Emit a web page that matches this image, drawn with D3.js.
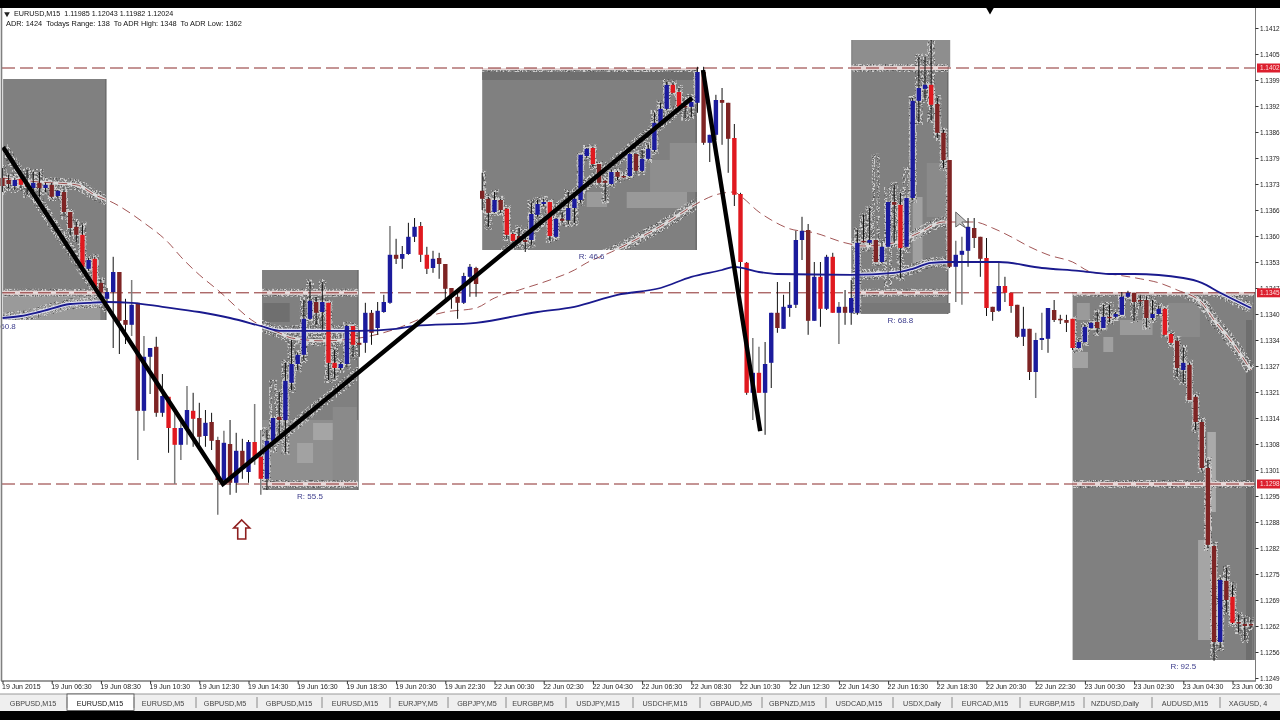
<!DOCTYPE html>
<html><head><meta charset="utf-8">
<script src="https://cdnjs.cloudflare.com/ajax/libs/d3/7.8.5/d3.min.js"></script>
<style>
html,body{margin:0;padding:0;background:#fff;overflow:hidden}
svg{display:block;filter:blur(0.35px)}
text{font-family:"Liberation Sans",Arial,sans-serif}
</style></head><body><svg id="c" width="1280" height="720"></svg>
<script>
const opens=[
1.13745,1.13740,1.13725,1.13743,1.13733,1.13720,1.13733,1.13720,1.13728,1.13700,
1.13710,1.13660,1.13623,1.13603,1.13518,1.13543,1.13483,1.13443,1.13460,1.13510,
1.13390,1.13378,1.13433,1.13163,1.13298,1.13323,1.13158,1.13198,1.13120,1.13078,
1.13120,1.13163,1.13145,1.13100,1.13135,1.13090,1.12990,1.13080,1.12983,1.13063,
1.13010,1.13085,1.13048,1.12993,1.13088,1.13148,1.13140,1.13233,1.13280,1.13303,
1.13393,1.13435,1.13410,1.13433,1.13283,1.13270,1.13280,1.13375,1.13333,1.13333,
1.13408,1.13370,1.13410,1.13433,1.13553,1.13543,1.13555,1.13598,1.13625,1.13553,
1.13520,1.13545,1.13530,1.13470,1.13448,1.13433,1.13498,1.13520,1.13713,1.13693,
1.13660,1.13690,1.13668,1.13605,1.13600,1.13590,1.13590,1.13653,1.13680,1.13685,
1.13598,1.13643,1.13640,1.13670,1.13690,1.13800,1.13820,1.13780,1.13738,1.13730,
1.13760,1.13750,1.13750,1.13805,1.13763,1.13793,1.13815,1.13883,1.13918,1.13978,
1.13960,1.13925,1.13923,1.13933,1.14010,1.13833,1.13853,1.13940,1.13933,1.13845,
1.13705,1.13533,1.13208,1.13258,1.13208,1.13283,1.13408,1.13368,1.13420,1.13428,
1.13590,1.13615,1.13388,1.13498,1.13418,1.13548,1.13408,1.13423,1.13408,1.13408,
1.13588,1.13583,1.13590,1.13535,1.13573,1.13685,1.13678,1.13573,1.13695,1.13938,
1.13968,1.13978,1.13930,1.13858,1.13790,1.13523,1.13553,1.13563,1.13620,1.13598,
1.13545,1.13423,1.13413,1.13475,1.13458,1.13428,1.13348,1.13368,1.13260,1.13340,
1.13343,1.13415,1.13393,1.13390,1.13393,1.13320,1.13335,1.13370,1.13385,1.13370,
1.13398,1.13398,1.13403,1.13448,1.13458,1.13440,1.13440,1.13395,1.13405,1.13418,
1.13355,1.13338,1.13265,1.13278,1.13198,1.13135,1.13020,1.12825,1.12585,1.12738,
1.12698,1.12635,1.12630,1.12630];
const highs=[
1.13770,1.13753,1.13745,1.13748,1.13765,1.13760,1.13760,1.13733,1.13733,1.13715,
1.13715,1.13660,1.13635,1.13628,1.13545,1.13548,1.13490,1.13470,1.13548,1.13510,
1.13443,1.13490,1.13433,1.13350,1.13320,1.13348,1.13255,1.13198,1.13158,1.13135,
1.13225,1.13208,1.13183,1.13165,1.13158,1.13098,1.13113,1.13140,1.13108,1.13093,
1.13090,1.13180,1.13115,1.13115,1.13233,1.13210,1.13283,1.13340,1.13308,1.13440,
1.13485,1.13448,1.13485,1.13433,1.13315,1.13285,1.13378,1.13375,1.13365,1.13433,
1.13415,1.13435,1.13453,1.13625,1.13593,1.13575,1.13633,1.13645,1.13635,1.13573,
1.13563,1.13558,1.13530,1.13470,1.13465,1.13508,1.13530,1.13523,1.13758,1.13698,
1.13710,1.13693,1.13670,1.13608,1.13620,1.13598,1.13683,1.13690,1.13693,1.13685,
1.13645,1.13660,1.13710,1.13708,1.13803,1.13820,1.13823,1.13780,1.13740,1.13765,
1.13763,1.13753,1.13808,1.13808,1.13815,1.13828,1.13908,1.13933,1.13985,1.13983,
1.13970,1.13940,1.13948,1.14023,1.14023,1.13853,1.13953,1.13970,1.13933,1.13880,
1.13708,1.13535,1.13345,1.13323,1.13335,1.13408,1.13485,1.13453,1.13485,1.13613,
1.13648,1.13630,1.13535,1.13535,1.13553,1.13558,1.13435,1.13465,1.13490,1.13615,
1.13653,1.13670,1.13798,1.13583,1.13715,1.13728,1.13708,1.13765,1.13945,1.14048,
1.14048,1.14090,1.13945,1.13865,1.13790,1.13588,1.13598,1.13645,1.13645,1.13598,
1.13595,1.13423,1.13533,1.13498,1.13458,1.13428,1.13423,1.13368,1.13358,1.13408,
1.13420,1.13440,1.13403,1.13403,1.13393,1.13340,1.13378,1.13385,1.13410,1.13428,
1.13428,1.13410,1.13460,1.13463,1.13458,1.13453,1.13448,1.13440,1.13425,1.13420,
1.13358,1.13343,1.13320,1.13283,1.13203,1.13140,1.13040,1.12828,1.12745,1.12770,
1.12728,1.12653,1.12645,1.12640];
const lows=[
1.13710,1.13720,1.13715,1.13720,1.13703,1.13700,1.13698,1.13710,1.13695,1.13695,
1.13648,1.13603,1.13585,1.13515,1.13513,1.13465,1.13450,1.13435,1.13320,1.13305,
1.13330,1.13350,1.13040,1.13113,1.13205,1.13148,1.13148,1.13058,1.12980,1.13040,
1.13078,1.13073,1.13078,1.13073,1.13065,1.12903,1.12978,1.12953,1.12958,1.12993,
1.12983,1.13028,1.12953,1.12965,1.13065,1.13098,1.13060,1.13215,1.13265,1.13290,
1.13390,1.13378,1.13363,1.13240,1.13245,1.13265,1.13273,1.13298,1.13298,1.13308,
1.13328,1.13353,1.13408,1.13430,1.13530,1.13518,1.13553,1.13585,1.13535,1.13505,
1.13508,1.13493,1.13440,1.13418,1.13393,1.13430,1.13448,1.13448,1.13665,1.13623,
1.13658,1.13658,1.13595,1.13583,1.13585,1.13560,1.13578,1.13648,1.13675,1.13590,
1.13595,1.13633,1.13630,1.13633,1.13683,1.13795,1.13773,1.13728,1.13688,1.13728,
1.13740,1.13745,1.13748,1.13758,1.13760,1.13790,1.13810,1.13878,1.13915,1.13958,
1.13920,1.13895,1.13898,1.13908,1.13828,1.13785,1.13840,1.13828,1.13758,1.13675,
1.13458,1.13203,1.13140,1.13208,1.13103,1.13220,1.13358,1.13368,1.13398,1.13420,
1.13540,1.13353,1.13388,1.13373,1.13415,1.13408,1.13330,1.13378,1.13378,1.13403,
1.13583,1.13578,1.13533,1.13533,1.13478,1.13583,1.13495,1.13565,1.13690,1.13885,
1.13940,1.13890,1.13845,1.13770,1.13520,1.13435,1.13428,1.13523,1.13570,1.13498,
1.13400,1.13388,1.13410,1.13435,1.13408,1.13345,1.13325,1.13240,1.13195,1.13315,
1.13308,1.13385,1.13380,1.13360,1.13315,1.13318,1.13333,1.13368,1.13358,1.13370,
1.13385,1.13395,1.13403,1.13445,1.13390,1.13425,1.13373,1.13390,1.13403,1.13353,
1.13328,1.13248,1.13235,1.13190,1.13115,1.13015,1.12820,1.12538,1.12570,1.12660,
1.12630,1.12610,1.12590,1.12620];
const closes=[
1.13725,1.13730,1.13740,1.13728,1.13723,1.13733,1.13720,1.13728,1.13698,1.13713,
1.13660,1.13620,1.13603,1.13523,1.13540,1.13473,1.13460,1.13460,1.13510,1.13388,
1.13378,1.13428,1.13163,1.13298,1.13320,1.13158,1.13200,1.13120,1.13078,1.13120,
1.13165,1.13143,1.13098,1.13133,1.13088,1.12990,1.13083,1.12983,1.13063,1.13023,
1.13085,1.13048,1.12993,1.13088,1.13145,1.13140,1.13238,1.13280,1.13303,1.13393,
1.13438,1.13408,1.13435,1.13283,1.13270,1.13280,1.13375,1.13328,1.13328,1.13408,
1.13358,1.13413,1.13435,1.13553,1.13543,1.13555,1.13598,1.13623,1.13553,1.13518,
1.13543,1.13530,1.13468,1.13448,1.13433,1.13500,1.13523,1.13480,1.13693,1.13658,
1.13690,1.13665,1.13603,1.13588,1.13590,1.13585,1.13655,1.13680,1.13685,1.13600,
1.13643,1.13638,1.13670,1.13693,1.13803,1.13818,1.13780,1.13733,1.13733,1.13760,
1.13748,1.13748,1.13805,1.13763,1.13793,1.13818,1.13883,1.13918,1.13978,1.13958,
1.13923,1.13923,1.13935,1.14010,1.13833,1.13853,1.13940,1.13933,1.13843,1.13703,
1.13535,1.13208,1.13258,1.13208,1.13280,1.13408,1.13370,1.13423,1.13428,1.13590,
1.13613,1.13388,1.13498,1.13418,1.13548,1.13408,1.13423,1.13408,1.13445,1.13583,
1.13585,1.13590,1.13535,1.13573,1.13685,1.13678,1.13570,1.13695,1.13938,1.13970,
1.13978,1.13928,1.13858,1.13790,1.13523,1.13553,1.13563,1.13623,1.13595,1.13543,
1.13420,1.13410,1.13475,1.13458,1.13425,1.13348,1.13368,1.13260,1.13340,1.13345,
1.13420,1.13390,1.13390,1.13383,1.13320,1.13335,1.13373,1.13383,1.13370,1.13398,
1.13395,1.13405,1.13448,1.13458,1.13435,1.13438,1.13395,1.13405,1.13418,1.13353,
1.13333,1.13270,1.13283,1.13190,1.13135,1.13020,1.12828,1.12585,1.12740,1.12690,
1.12633,1.12633,1.12625,1.12628];
const brightCandles=[3,13,15,27,28,31,41,42,53,54,57,68,69,82,83,89,96,109,110,119,120,121,123,133,135,146,151,160,163,164,174,189,190,200];
const grayWicks=[21,22,23,28,29,30,35,36,41,42,44,63,122,123,136,142,144,147,155,156,162,168,169];

const maIdx=[0,3,6,11,14,17,21,26,32,37,42,45,48,58,64,67,77,87,93,100,107,112,117,119,123,126,138,145,148,151,154,160,162,169,175,180,184,192,195,198,203];
const maPrice=[1.13395,1.13400,1.13410,1.13430,1.13433,1.13435,1.13433,1.13423,1.13410,1.13395,1.13375,1.13363,1.13363,1.13363,1.13368,1.13375,1.13383,1.13410,1.13423,1.13453,1.13470,1.13498,1.13515,1.13523,1.13510,1.13505,1.13503,1.13508,1.13518,1.13533,1.13535,1.13535,1.13535,1.13520,1.13513,1.13505,1.13505,1.13495,1.13483,1.13458,1.13420];
const slowIdx=[0,6,12,15,18,23,27,29,32,35,41,45,47,52,58,64,68,72,77,80,84,89,93,95,99,102,108,112,116,119,120,123,125,128,132,137,140,145,149,153,158,161,164,167,170,174,177,181,185,188,191,195,197,200,203];
const slowPrice=[1.13745,1.13735,1.13728,1.13703,1.13683,1.13633,1.13583,1.13548,1.13503,1.13465,1.13385,1.13358,1.13345,1.13338,1.13345,1.13368,1.13393,1.13410,1.13420,1.13445,1.13465,1.13490,1.13515,1.13533,1.13560,1.13583,1.13633,1.13673,1.13703,1.13710,1.13700,1.13660,1.13640,1.13618,1.13608,1.13583,1.13575,1.13583,1.13608,1.13635,1.13635,1.13620,1.13598,1.13573,1.13553,1.13535,1.13510,1.13503,1.13493,1.13483,1.13465,1.13433,1.13390,1.13333,1.13265];

const trendAIdx=[0.08,35.85,112.1], trendAPrice=[1.13822,1.12980,1.13945];
const trendBIdx=[113.9,123.2], trendBPrice=[1.14015,1.13112];

const levelPrices=[1.1402,1.13458,1.1298];
const levelLabels=["1.1402","1.1345","1.1298"];

const boxStart=[0.1,42.2,78,138,174];
const boxEnd=[16.8,57.8,112.8,153.7,203.5];
const boxTop=[1.139925,1.13515,1.1402,1.1409,1.1346];
const boxBottom=[1.1339,1.12965,1.13565,1.13405,1.1254];
const boxLabels=["60.8","R: 55.5","R: 46.6","R: 68.8","R: 92.5"];
const boxLabelIdx=[0.9,50,95.8,146,192];

const patchStart=[0.1,42.4,42.2,47.9,50.5,53.7,101.5,105.3,108.5,95,78,138.2,148,150.3,138.2,174.7,174,179,181.7,189.5,195.9,194.4,202.2];
const patchEnd=[15.9,46.7,57.8,50.5,54.9,57.6,111.3,112.9,112.9,98.3,112.9,154.1,149.6,154.1,154.1,176.8,176.5,180.6,187,194.7,197.3,196.7,203.2];
const patchTop=[1.1345,1.134325,1.1314,1.130825,1.131325,1.131725,1.1371,1.1379,1.138325,1.1371,1.1401,1.1409,1.136975,1.137825,1.134325,1.134325,1.1331,1.133475,1.1339,1.134325,1.1311,1.1284,1.1339];
const patchBottom=[1.1339,1.13385,1.1298,1.130325,1.1309,1.129825,1.1367,1.1371,1.1379,1.136725,1.1399,1.140225,1.135325,1.136475,1.134075,1.1339,1.1327,1.1331,1.133525,1.133475,1.1291,1.1259,1.1254];
const patchGray=[154,111,143,162,165,138,153,142,142,154,111,142,160,138,120,154,162,160,154,138,170,165,110];

const priceTicks=[1.1412,1.14055,1.1399,1.13925,1.1386,1.13795,1.1373,1.13665,1.136,1.13535,1.1347,1.13405,1.1334,1.13275,1.1321,1.13145,1.1308,1.13015,1.1295,1.12885,1.1282,1.12755,1.1269,1.12625,1.1256,1.12495];
const priceLabels=["1.1412","1.1405","1.1399","1.1392","1.1386","1.1379","1.1373","1.1366","1.1360","1.1353","1.1347","1.1340","1.1334","1.1327","1.1321","1.1314","1.1308","1.1301","1.1295","1.1288","1.1282","1.1275","1.1269","1.1262","1.1256","1.1249"];
const timeTicks=[0,8,16,24,32,40,48,56,64,72,80,88,96,104,112,120,128,136,144,152,160,168,176,184,192,200];
const timeLabels=["19 Jun 2015","19 Jun 06:30","19 Jun 08:30","19 Jun 10:30","19 Jun 12:30","19 Jun 14:30","19 Jun 16:30","19 Jun 18:30","19 Jun 20:30","19 Jun 22:30","22 Jun 00:30","22 Jun 02:30","22 Jun 04:30","22 Jun 06:30","22 Jun 08:30","22 Jun 10:30","22 Jun 12:30","22 Jun 14:30","22 Jun 16:30","22 Jun 18:30","22 Jun 20:30","22 Jun 22:30","23 Jun 00:30","23 Jun 02:30","23 Jun 04:30","23 Jun 06:30"];
const tabLabels=["GBPUSD,M15","EURUSD,M15","EURUSD,M5","GBPUSD,M5","GBPUSD,M15","EURUSD,M15","EURJPY,M5","GBPJPY,M5","EURGBP,M5","USDJPY,M15","USDCHF,M15","GBPAUD,M5","GBPNZD,M15","USDCAD,M15","USDX,Daily","EURCAD,M15","EURGBP,M15","NZDUSD,Daily","AUDUSD,M15","XAGUSD, 4"];
const tabCentre=[33,100,163,225,289,355,418,477,533,598,665,731,792,859,922,985,1052,1115,1185,1248];
const tabEdges=[67,134,196,257,322,390,448,506,566,633,700,762,826,893,952,1020,1084,1152,1220];
const headerLine="EURUSD,M15  1.11985 1.12043 1.11982 1.12024";
const adrLine="ADR: 1424  Todays Range: 138  To ADR High: 1348  To ADR Low: 1362";

const svg=d3.select("#c");
const x=d3.scaleLinear().domain([0,200]).range([2.5,1232.5]);
const y=d3.scaleLinear().domain([1.1412,1.12495]).range([28,678]);
const ids=opens.map((_,i)=>i);
const brightSet=new Set(brightCandles), graySet=new Set(grayWicks);
const RED="#e0191f", MAROON="#7e2424", BLUE="#1b1b9c", LINE="#8a2b2b", NAVY="#1a1a8e";

svg.append("rect").attr("width",1280).attr("height",720).attr("fill","#fff");
const defs=svg.append("defs");
function speckle(id,seed,freq,gain,off){
  const f=defs.append("filter").attr("id",id).attr("filterUnits","userSpaceOnUse")
    .attr("x",0).attr("y",0).attr("width",1280).attr("height",720);
  f.append("feTurbulence").attr("type","fractalNoise").attr("baseFrequency",freq).attr("numOctaves",2).attr("seed",seed).attr("result","n");
  f.append("feColorMatrix").attr("in","n").attr("type","matrix")
    .attr("values",`0 0 0 0 0 0 0 0 0 0 0 0 0 0 0 ${gain} 0 0 0 ${off}`).attr("result","m");
  f.append("feComposite").attr("in","SourceGraphic").attr("in2","m").attr("operator","in");
}
speckle("spkL",3,0.55,8,-3.9);
speckle("spkD",11,0.6,8,-4.7);
const clip=defs.append("clipPath").attr("id","boxClip");
boxStart.forEach((_,k)=>clip.append("rect").attr("x",x(boxStart[k])).attr("y",y(boxTop[k]))
  .attr("width",x(boxEnd[k])-x(boxStart[k])).attr("height",y(boxBottom[k])-y(boxTop[k])));
defs.append("clipPath").attr("id","plot").append("rect").attr("x",0).attr("y",8).attr("width",1255).attr("height",673);

const plot=svg.append("g").attr("clip-path","url(#plot)");
plot.append("g").selectAll("rect").data(boxStart).join("rect")
  .attr("x",(d,k)=>x(boxStart[k])).attr("y",(d,k)=>y(boxTop[k]))
  .attr("width",(d,k)=>x(boxEnd[k])-x(boxStart[k])).attr("height",(d,k)=>y(boxBottom[k])-y(boxTop[k]))
  .attr("fill","#808080");
plot.append("g").selectAll("line").data(boxEnd).join("line")
  .attr("x1",d=>x(d)).attr("x2",d=>x(d)).attr("y1",(d,k)=>y(boxTop[k])).attr("y2",(d,k)=>y(boxBottom[k]))
  .attr("stroke","#6b6b6b").attr("stroke-width",1.5);
plot.append("g").selectAll("rect").data(patchStart).join("rect")
  .attr("x",(d,k)=>x(patchStart[k])).attr("y",(d,k)=>y(patchTop[k]))
  .attr("width",(d,k)=>x(patchEnd[k])-x(patchStart[k])).attr("height",(d,k)=>y(patchBottom[k])-y(patchTop[k]))
  .attr("fill",(d,k)=>d3.rgb(patchGray[k],patchGray[k],patchGray[k]));

const lineMA=d3.line().curve(d3.curveMonotoneX);
const maPath=lineMA(maIdx.map((d,i)=>[x(d),y(maPrice[i])]));
const slowPath=lineMA(slowIdx.map((d,i)=>[x(d),y(slowPrice[i])]));
const straight=d3.line();
const trendA=straight(trendAIdx.map((d,i)=>[x(d),y(trendAPrice[i])]));
const trendB=straight(trendBIdx.map((d,i)=>[x(d),y(trendBPrice[i])]));

function halos(g,col){
  g.append("g").selectAll("line").data(ids).join("line")
    .attr("x1",i=>x(i)).attr("x2",i=>x(i)).attr("y1",i=>y(highs[i])-3).attr("y2",i=>y(lows[i])+3)
    .attr("stroke",col).attr("stroke-width",8);
  g.append("g").selectAll("line").data(levelPrices).join("line")
    .attr("x1",0).attr("x2",1255).attr("y1",d=>y(d)).attr("y2",d=>y(d))
    .attr("stroke",col).attr("stroke-width",8);
  [maPath,slowPath,trendA].forEach(p=>g.append("path").attr("d",p).attr("fill","none")
    .attr("stroke",col).attr("stroke-width",11));
}
const haloG=plot.append("g").attr("clip-path","url(#boxClip)");
haloG.append("g").selectAll("rect").data(ids).join("rect")
  .attr("x",i=>x(i)-3.1).attr("width",6.2)
  .attr("y",i=>y(Math.max(opens[i],closes[i]))-1.5)
  .attr("height",i=>Math.abs(y(opens[i])-y(closes[i]))+3)
  .attr("fill","#d4d4d4");
halos(haloG.append("g").attr("filter","url(#spkL)"),"#cfcfcf");
halos(haloG.append("g").attr("filter","url(#spkD)"),"#585858");
haloG.append("g").selectAll("line").data(levelPrices).join("line")
  .attr("x1",0).attr("x2",1255).attr("y1",d=>y(d)).attr("y2",d=>y(d))
  .attr("stroke","#e6d6d6").attr("stroke-width",4);
haloG.append("path").attr("d",slowPath).attr("fill","none").attr("stroke","#dcdcdc").attr("stroke-width",3);
haloG.append("path").attr("d",maPath).attr("fill","none").attr("stroke","#dfe0ee").attr("stroke-width",4);

plot.append("g").selectAll("line").data(levelPrices).join("line")
  .attr("x1",2).attr("x2",1255).attr("y1",d=>y(d)).attr("y2",d=>y(d))
  .attr("stroke",LINE).attr("stroke-width",1).attr("stroke-dasharray","13,5");
plot.append("path").attr("d",slowPath).attr("fill","none").attr("stroke",LINE)
  .attr("stroke-width",0.8).attr("stroke-dasharray","9,5");

plot.append("g").selectAll("line").data(ids).join("line")
  .attr("x1",i=>x(i)).attr("x2",i=>x(i)).attr("y1",i=>y(highs[i])).attr("y2",i=>y(lows[i]))
  .attr("stroke",i=>graySet.has(i)?"#7d7d7d":"#111").attr("stroke-width",i=>graySet.has(i)?1.5:1);
plot.append("g").selectAll("rect").data(ids).join("rect")
  .attr("x",i=>x(i)-2.2).attr("width",4.4)
  .attr("y",i=>y(Math.max(opens[i],closes[i])))
  .attr("height",i=>Math.max(1.5,Math.abs(y(opens[i])-y(closes[i]))))
  .attr("fill",i=>closes[i]>opens[i]?BLUE:(brightSet.has(i)?RED:MAROON));

plot.append("path").attr("d",maPath).attr("fill","none").attr("stroke",NAVY).attr("stroke-width",1.8);
[trendA,trendB].forEach(p=>plot.append("path").attr("d",p).attr("fill","none").attr("stroke","#000")
  .attr("stroke-width",4.4).attr("stroke-linejoin","miter"));

const ax=x(38.9), ay=y(1.1289);
plot.append("path").attr("transform",`translate(${ax},${ay})`)
  .attr("d",d3.line()([[0,0],[8,8],[4,8],[4,19],[-4,19],[-4,8],[-8,8]])+"Z")
  .attr("fill","#fff").attr("stroke","#8e1f1f").attr("stroke-width",1.6);
const cx=x(155), cy=y(1.1366);
plot.append("path").attr("transform",`translate(${cx},${cy})`)
  .attr("d",d3.line()([[0,0],[11,10],[6,10],[10,16],[4,12],[0,15]])+"Z")
  .attr("fill","#c4c4c4").attr("stroke","#666").attr("stroke-width",1);

plot.append("g").selectAll("text").data(boxLabels).join("text")
  .attr("x",(d,k)=>x(boxLabelIdx[k])).attr("y",(d,k)=>y(boxBottom[k])+9)
  .attr("text-anchor","middle").attr("font-size",8).attr("fill","#3c3c8c").text(d=>d);

svg.append("line").attr("x1",1.5).attr("x2",1.5).attr("y1",8).attr("y2",681).attr("stroke","#808080").attr("stroke-width",1.6);

const yAxis=d3.axisRight(y).tickValues(priceTicks).tickSize(3).tickPadding(1.5)
  .tickFormat((d,i)=>priceLabels[i]);
const gy=svg.append("g").attr("transform","translate(1255.5,0)").call(yAxis);
gy.select(".domain").attr("stroke","#7a7a7a").attr("d","M0,8V681");
gy.selectAll(".tick line").attr("stroke","#333");
gy.selectAll(".tick text").attr("font-family","Liberation Sans").attr("font-size",6.4).attr("fill","#222");

const tags=svg.append("g").selectAll("g").data(levelPrices).join("g")
  .attr("transform",d=>`translate(1257,${y(d)-4.5})`);
tags.append("rect").attr("width",23).attr("height",9).attr("fill","#dc1f2e");
tags.append("text").attr("x",3).attr("y",6.8).attr("font-size",6.4).attr("fill","#ffdede").text((d,i)=>levelLabels[i]);

const xAxis=d3.axisBottom(x).tickValues(timeTicks).tickSize(3).tickPadding(2)
  .tickFormat((d,i)=>timeLabels[i]);
const gx=svg.append("g").attr("transform","translate(0,681)").call(xAxis);
gx.select(".domain").attr("stroke","#7a7a7a").attr("stroke-width",1.5).attr("d","M1,0H1256");
gx.selectAll(".tick line").attr("stroke","#333");
gx.selectAll(".tick text").attr("text-anchor","start").attr("x",-1).attr("y",3.5).attr("font-family","Liberation Sans")
  .attr("font-size",7).attr("fill","#222");

svg.append("path").attr("d",d3.symbol(d3.symbolTriangle,14)()).attr("transform","translate(7,14) rotate(180)").attr("fill","#222");
svg.append("text").attr("x",14).attr("y",16).attr("font-size",7.2).attr("fill","#111").attr("xml:space","preserve").text(headerLine);
svg.append("text").attr("x",6).attr("y",26).attr("font-size",7.4).attr("fill","#111").attr("xml:space","preserve").text(adrLine);

svg.append("rect").attr("y",694).attr("width",1280).attr("height",17).attr("fill","#efefef");
svg.append("line").attr("x1",0).attr("x2",1280).attr("y1",694).attr("y2",694).attr("stroke","#9a9a9a");
svg.append("rect").attr("x",tabEdges[0]).attr("y",694).attr("width",tabEdges[1]-tabEdges[0]).attr("height",16.5)
  .attr("fill","#fff").attr("stroke","#444").attr("stroke-width",0.8);
svg.append("g").selectAll("line").data(tabEdges).join("line")
  .attr("x1",d=>d).attr("x2",d=>d).attr("y1",697).attr("y2",708).attr("stroke","#8a8a8a");
svg.append("g").selectAll("text").data(tabLabels).join("text")
  .attr("x",(d,i)=>tabCentre[i]).attr("y",706).attr("text-anchor","middle")
  .attr("font-size",7.2).attr("fill",(d,i)=>i===1?"#111":"#444").text(d=>d);

svg.append("rect").attr("width",1280).attr("height",8).attr("fill","#000");
svg.append("rect").attr("y",711).attr("width",1280).attr("height",9).attr("fill","#000");
svg.append("path").attr("d",d3.symbol(d3.symbolTriangle,26)()).attr("transform","translate(990,10) rotate(180)").attr("fill","#000");
</script></body></html>
